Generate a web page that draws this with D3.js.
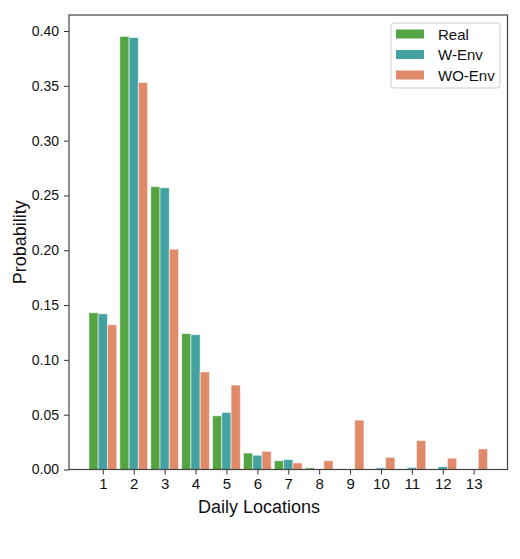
<!DOCTYPE html>
<html>
<head>
<meta charset="utf-8">
<script src="https://cdn.jsdelivr.net/npm/d3@7"></script>
<style>
  body { margin: 0; background: #fff; }
  text { font-family: "Liberation Sans", Arial, sans-serif; }
</style>
</head>
<body>
<svg id="chart" width="520" height="559"></svg>
<script>
// number of distinct locations visited per day
var categories = [1, 2, 3, 4, 5, 6, 7, 8, 9, 10, 11, 12, 13];
var seriesNames = ['Real', 'W-Env', 'WO-Env'];
var realValues = [0.143, 0.395, 0.258, 0.124, 0.049, 0.015, 0.008, 0.0015, 0.0005, 0, 0, 0, 0.0003];
var wEnvValues = [0.142, 0.394, 0.257, 0.123, 0.052, 0.013, 0.009, 0, 0, 0.0015, 0.0018, 0.0025, 0];
var woEnvValues = [0.132, 0.353, 0.201, 0.089, 0.077, 0.0165, 0.006, 0.008, 0.045, 0.011, 0.0264, 0.0103, 0.0188];
var yTicks = [0, 0.05, 0.10, 0.15, 0.20, 0.25, 0.30, 0.35, 0.40];

var colors = ['#55a443', '#43a1a1', '#e08a6a'];
var allSeries = [realValues, wEnvValues, woEnvValues];

var svg = d3.select('#chart');
// plot area (window.top is reserved, so use other names)
var mLeft = 69, mRight = 507.5, mTop = 15, mBottom = 469.5;
var barW = 0.3;

// matplotlib style margins: 5% of the data span on each side
var xMin = categories[0] - 1.5 * barW, xMax = categories[categories.length - 1] + 1.5 * barW;
var pad = (xMax - xMin) * 0.05;
var x = d3.scaleLinear().domain([xMin - pad, xMax + pad]).range([mLeft, mRight]);
var y = d3.scaleLinear().domain([0, 0.4146]).range([mBottom, mTop]);

var plot = svg.append('g');

allSeries.forEach(function(vals, si) {
  plot.selectAll('rect.s' + si)
    .data(vals)
    .enter()
    .append('rect')
    .attr('class', 's' + si)
    .attr('x', function(d, i) { return x(categories[i] + (si - 1) * barW - barW / 2); })
    .attr('width', function() { return x(barW) - x(0); })
    .attr('y', function(d) { return y(d); })
    .attr('height', function(d) { return mBottom - y(d); })
    .attr('fill', colors[si])
    .attr('stroke', 'rgba(255,255,255,0.55)')
    .attr('stroke-width', 1);
});

// axes
var xAxis = d3.axisBottom(x).tickValues(categories).tickSize(5).tickPadding(4);
var gx = svg.append('g').attr('transform', 'translate(0,' + mBottom + ')').call(xAxis);
gx.select('.domain').remove();
gx.selectAll('text').attr('font-size', 15).attr('fill', '#111');
gx.selectAll('line').attr('stroke', '#333');

var yAxis = d3.axisLeft(y).tickValues(yTicks).tickFormat(d3.format('.2f')).tickSize(5).tickPadding(5);
var gy = svg.append('g').attr('transform', 'translate(' + mLeft + ',0)').call(yAxis);
gy.select('.domain').remove();
gy.selectAll('text').attr('font-size', 14).attr('fill', '#111');
gy.selectAll('line').attr('stroke', '#333');

// frame
svg.append('rect')
  .attr('x', mLeft).attr('y', mTop)
  .attr('width', mRight - mLeft).attr('height', mBottom - mTop)
  .attr('fill', 'none').attr('stroke', '#444').attr('stroke-width', 1.2);

// labels
svg.append('text')
  .attr('x', 259).attr('y', 513)
  .attr('text-anchor', 'middle').attr('font-size', 18).attr('fill', '#111')
  .text('Daily Locations');

svg.append('text')
  .attr('transform', 'translate(26,' + ((mTop + mBottom) / 2) + ') rotate(-90)')
  .attr('text-anchor', 'middle').attr('font-size', 18).attr('fill', '#111')
  .text('Probability');

// legend
var legend = svg.append('g').attr('transform', 'translate(391,23)');
legend.append('rect')
  .attr('width', 109).attr('height', 65).attr('rx', 3)
  .attr('fill', 'rgba(255,255,255,0.8)').attr('stroke', '#ccc').attr('stroke-width', 1);
seriesNames.forEach(function(name, i) {
  var row = legend.append('g').attr('transform', 'translate(0,' + (11 + i * 20.5) + ')');
  row.append('rect').attr('x', 5).attr('y', -4.5).attr('width', 28).attr('height', 9).attr('fill', colors[i]);
  row.append('text').attr('x', 47).attr('y', 5.5).attr('font-size', 15).attr('fill', '#111').text(name);
});
</script>
</body>
</html>
